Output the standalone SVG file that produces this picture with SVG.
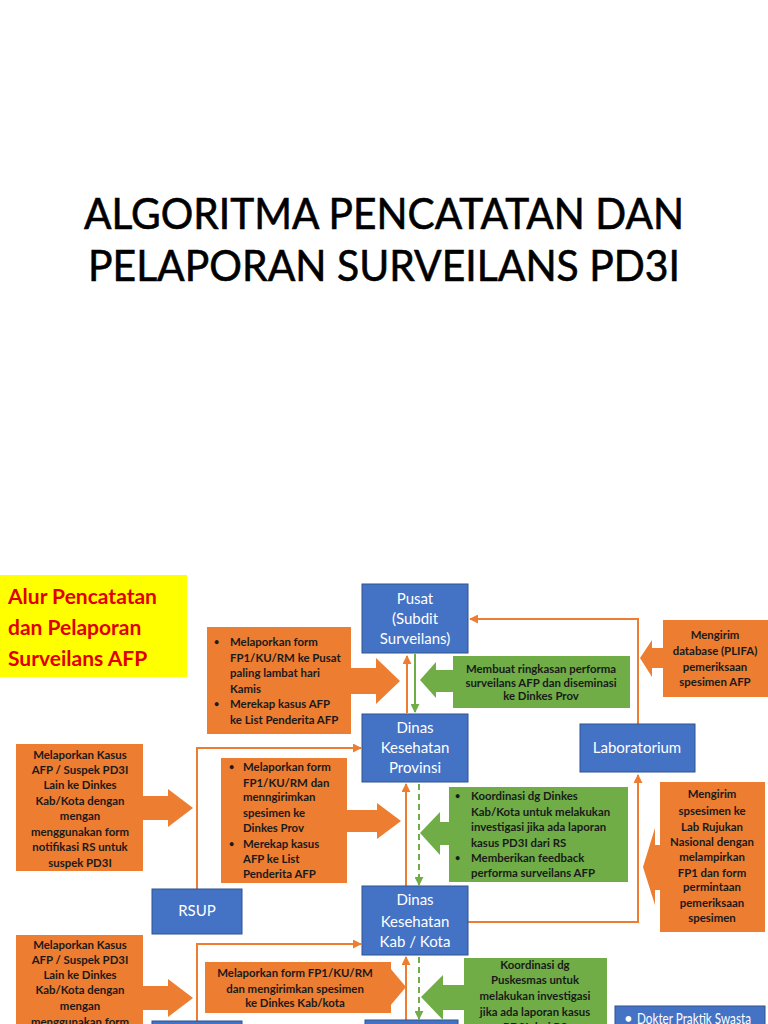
<svg xmlns="http://www.w3.org/2000/svg" width="768" height="1024" viewBox="0 0 768 1024">
<defs>
<style>
.title{font-family:Lato,"Open Sans","Liberation Sans",sans-serif;font-size:42px;fill:#000;text-anchor:middle;stroke:#000;stroke-width:0.6}
.blue{fill:#4472C4;stroke:#2F528F;stroke-width:1}
.bt{font-family:Lato,"Open Sans","Liberation Sans",sans-serif;font-size:15px;fill:#fff;text-anchor:middle}
.or{fill:#ED7D31}
.gr{fill:#70AD47}
.t{font-family:Lato,"Open Sans","Liberation Sans",sans-serif;font-size:11.4px;font-weight:bold;fill:#1a1a1a}
.b{font-family:Lato,"Open Sans","Liberation Sans",sans-serif;font-size:9px;font-weight:bold;fill:#1a1a1a}
.c{text-anchor:middle}
.lo{fill:none;stroke:#ED7D31;stroke-width:2}
.lg{fill:none;stroke:#70AD47;stroke-width:2}
.dash{stroke-dasharray:6 4}
</style>
<marker id="ao" viewBox="0 0 10 10" refX="9" refY="5" markerWidth="4.5" markerHeight="4.5" orient="auto"><path d="M0,0 L10,5 L0,10 Z" fill="#ED7D31"/></marker>
<marker id="ag" viewBox="0 0 10 10" refX="9" refY="5" markerWidth="4.5" markerHeight="4.5" orient="auto"><path d="M0,0 L10,5 L0,10 Z" fill="#70AD47"/></marker>
</defs>
<rect width="768" height="1024" fill="#fff"/>
<g id="title">
<text class="title" x="384" y="229" textLength="600" lengthAdjust="spacingAndGlyphs">ALGORITMA PENCATATAN DAN</text>
<text class="title" x="384" y="281" textLength="592" lengthAdjust="spacingAndGlyphs">PELAPORAN SURVEILANS PD3I</text>
</g>
<g id="label-alur">
<rect x="0" y="575" width="187" height="102" fill="#FFFF00"/>
<g font-family="Lato,'Open Sans','Liberation Sans',sans-serif" font-size="21" font-weight="bold" fill="#E00000">
<text x="8" y="604">Alur Pencatatan</text>
<text x="8" y="635">dan Pelaporan</text>
<text x="8" y="666">Surveilans AFP</text>
</g>
</g>
<g id="connectors">
<line class="lo" x1="407" y1="713" x2="407" y2="656" marker-end="url(#ao)"/>
<line class="lg" x1="415" y1="654" x2="415" y2="712" marker-end="url(#ag)"/>
<line class="lo" x1="406" y1="886" x2="406" y2="784" marker-end="url(#ao)"/>
<line class="lg dash" x1="419" y1="784" x2="419" y2="885" marker-end="url(#ag)"/>
<line class="lo" x1="406" y1="1021" x2="406" y2="957" marker-end="url(#ao)"/>
<line class="lg dash" x1="419" y1="957" x2="419" y2="1019" marker-end="url(#ag)"/>
<polyline class="lo" points="638,724 638,619 470,619" marker-end="url(#ao)"/>
<polyline class="lo" points="468,922 638,922 638,775" marker-end="url(#ao)"/>
<polyline class="lo" points="197,889 197,748 361,748" marker-end="url(#ao)"/>
<polyline class="lo" points="197,1021 197,944 361,944" marker-end="url(#ao)"/>
</g>
<g id="pusat">
<rect class="blue" x="362" y="584" width="106" height="69"/>
<text class="bt" x="415" y="604">Pusat</text>
<text class="bt" x="415" y="624">(Subdit</text>
<text class="bt" x="415" y="644">Surveilans)</text>
</g>
<g id="dinkes-prov">
<rect class="blue" x="362" y="714" width="106" height="68"/>
<text class="bt" x="415" y="733">Dinas</text>
<text class="bt" x="415" y="753">Kesehatan</text>
<text class="bt" x="415" y="773">Provinsi</text>
</g>
<g id="laboratorium">
<rect class="blue" x="580" y="724" width="115" height="48"/>
<text class="bt" x="637" y="753">Laboratorium</text>
</g>
<g id="rsup">
<rect class="blue" x="152" y="889" width="90" height="45"/>
<text class="bt" x="197" y="916">RSUP</text>
</g>
<g id="dinkes-kab">
<rect class="blue" x="362" y="886" width="106" height="69"/>
<text class="bt" x="415" y="905" font-size="16">Dinas</text>
<text class="bt" x="415" y="927" font-size="16">Kesehatan</text>
<text class="bt" x="415" y="947" font-size="16">Kab / Kota</text>
</g>
<g id="bottom-left-box">
<rect class="blue" x="152" y="1021" width="90" height="20"/>
</g>
<g id="bottom-mid-box">
<rect class="blue" x="365" y="1020" width="93" height="20"/>
</g>
<g id="dokter">
<rect class="blue" x="615" y="1006" width="150" height="30"/>
<text class="bt" x="624" y="1024" font-size="10" style="text-anchor:start">•</text>
<text class="bt" x="637" y="1024" font-size="13" textLength="114" lengthAdjust="spacingAndGlyphs" style="text-anchor:start">Dokter Praktik Swasta</text>
</g>
<g id="note-pusat-report">
<rect class="or" x="207" y="627" width="144" height="107"/>
<rect class="or" x="350" y="668" width="27" height="26"/>
<polygon class="or" points="376,658 400,681 376,704"/>
<text class="b" x="214" y="645">•</text><text class="t" x="230" y="646">Melaporkan form</text>
<text class="t" x="230" y="661.5">FP1/KU/RM ke Pusat</text>
<text class="t" x="230" y="677">paling lambat hari</text>
<text class="t" x="230" y="692.5">Kamis</text>
<text class="b" x="214" y="707">•</text><text class="t" x="230" y="708">Merekap kasus AFP</text>
<text class="t" x="230" y="723.5">ke List Penderita AFP</text>
</g>
<g id="note-pusat-feedback">
<rect class="gr" x="453" y="656" width="177" height="52"/>
<rect class="gr" x="434" y="670" width="20" height="22"/>
<polygon class="gr" points="436,662 420,680 436,698"/>
<text class="t c" x="541" y="673">Membuat ringkasan performa</text>
<text class="t c" x="541" y="686.5">surveilans AFP dan diseminasi</text>
<text class="t c" x="541" y="700">ke Dinkes Prov</text>
</g>
<g id="note-lab-database">
<rect class="or" x="663" y="620" width="105" height="77"/>
<rect class="or" x="650" y="648" width="14" height="20"/>
<polygon class="or" points="652,640 640,658 652,677"/>
<text class="t c" x="715" y="639">Mengirim</text>
<text class="t c" x="715" y="655">database (PLIFA)</text>
<text class="t c" x="715" y="671">pemeriksaan</text>
<text class="t c" x="715" y="686">spesimen AFP</text>
</g>
<g id="note-rs-1">
<rect class="or" x="16" y="744" width="127" height="127"/>
<rect class="or" x="142" y="796" width="27" height="24"/>
<polygon class="or" points="168,789 193,808 168,827"/>
<text class="t c" x="80" y="759">Melaporkan Kasus</text>
<text class="t c" x="80" y="774">AFP / Suspek PD3I</text>
<text class="t c" x="80" y="789">Lain ke Dinkes</text>
<text class="t c" x="80" y="805">Kab/Kota dengan</text>
<text class="t c" x="80" y="820">mengan</text>
<text class="t c" x="80" y="836">menggunakan form</text>
<text class="t c" x="80" y="851">notifikasi RS untuk</text>
<text class="t c" x="80" y="867">suspek PD3I</text>
</g>
<g id="note-prov-report">
<rect class="or" x="221" y="758" width="126" height="125"/>
<rect class="or" x="346" y="810" width="32" height="22"/>
<polygon class="or" points="377,803 401,821 377,839"/>
<text class="b" x="229" y="770">•</text><text class="t" x="243" y="771">Melaporkan form</text>
<text class="t" x="243" y="787">FP1/KU/RM dan</text>
<text class="t" x="243" y="801">menngirimkan</text>
<text class="t" x="243" y="817">spesimen ke</text>
<text class="t" x="243" y="832">Dinkes Prov</text>
<text class="b" x="229" y="847">•</text><text class="t" x="243" y="848">Merekap kasus</text>
<text class="t" x="243" y="863">AFP ke List</text>
<text class="t" x="243" y="878">Penderita AFP</text>
</g>
<g id="note-prov-coord">
<rect class="gr" x="449" y="787" width="179" height="95"/>
<rect class="gr" x="439" y="822" width="11" height="23"/>
<polygon class="gr" points="440,812 420,833 440,855"/>
<text class="b" x="455" y="799">•</text><text class="t" x="471" y="800">Koordinasi dg Dinkes</text>
<text class="t" x="471" y="816">Kab/Kota untuk melakukan</text>
<text class="t" x="471" y="831">investigasi  jika ada laporan</text>
<text class="t" x="471" y="847">kasus PD3I dari RS</text>
<text class="b" x="455" y="861">•</text><text class="t" x="471" y="862">Memberikan feedback</text>
<text class="t" x="471" y="877">performa surveilans AFP</text>
</g>
<g id="note-lab-specimen">
<rect class="or" x="660" y="782" width="105" height="150"/>
<rect class="or" x="653" y="845" width="8" height="45"/>
<polygon class="or" points="655,828 643,867 655,905"/>
<text class="t c" x="712" y="798">Mengirim</text>
<text class="t c" x="712" y="815">spsesimen ke</text>
<text class="t c" x="712" y="831">Lab Rujukan</text>
<text class="t c" x="712" y="846">Nasional dengan</text>
<text class="t c" x="712" y="861">melampirkan</text>
<text class="t c" x="712" y="877">FP1 dan form</text>
<text class="t c" x="712" y="891">permintaan</text>
<text class="t c" x="712" y="907">pemeriksaan</text>
<text class="t c" x="712" y="922">spesimen</text>
</g>
<g id="note-rs-2">
<rect class="or" x="16" y="935" width="127" height="100"/>
<rect class="or" x="142" y="986" width="27" height="24"/>
<polygon class="or" points="168,979 193,998 168,1017"/>
<text class="t c" x="80" y="949">Melaporkan Kasus</text>
<text class="t c" x="80" y="964">AFP / Suspek PD3I</text>
<text class="t c" x="80" y="979">Lain ke Dinkes</text>
<text class="t c" x="80" y="994">Kab/Kota dengan</text>
<text class="t c" x="80" y="1010">mengan</text>
<text class="t c" x="80" y="1026">menggunakan form</text>
</g>
<g id="note-kab-report">
<rect class="or" x="205" y="962" width="186" height="51"/>
<polygon class="or" points="390,968 406,987 390,1006"/>
<text class="t c" x="295" y="977">Melaporkan form FP1/KU/RM</text>
<text class="t c" x="295" y="993">dan mengirimkan spesimen</text>
<text class="t c" x="295" y="1007">ke Dinkes Kab/kota</text>
</g>
<g id="note-kab-coord">
<rect class="gr" x="464" y="958" width="143" height="80"/>
<rect class="gr" x="441" y="985" width="24" height="25"/>
<polygon class="gr" points="443,975 421,997 443,1020"/>
<text class="t c" x="535" y="969">Koordinasi dg</text>
<text class="t c" x="535" y="984">Puskesmas untuk</text>
<text class="t c" x="535" y="1000">melakukan investigasi</text>
<text class="t c" x="535" y="1016">jika ada laporan kasus</text>
<text class="t c" x="535" y="1031">PD3I dari RS</text>
</g>
</svg>
